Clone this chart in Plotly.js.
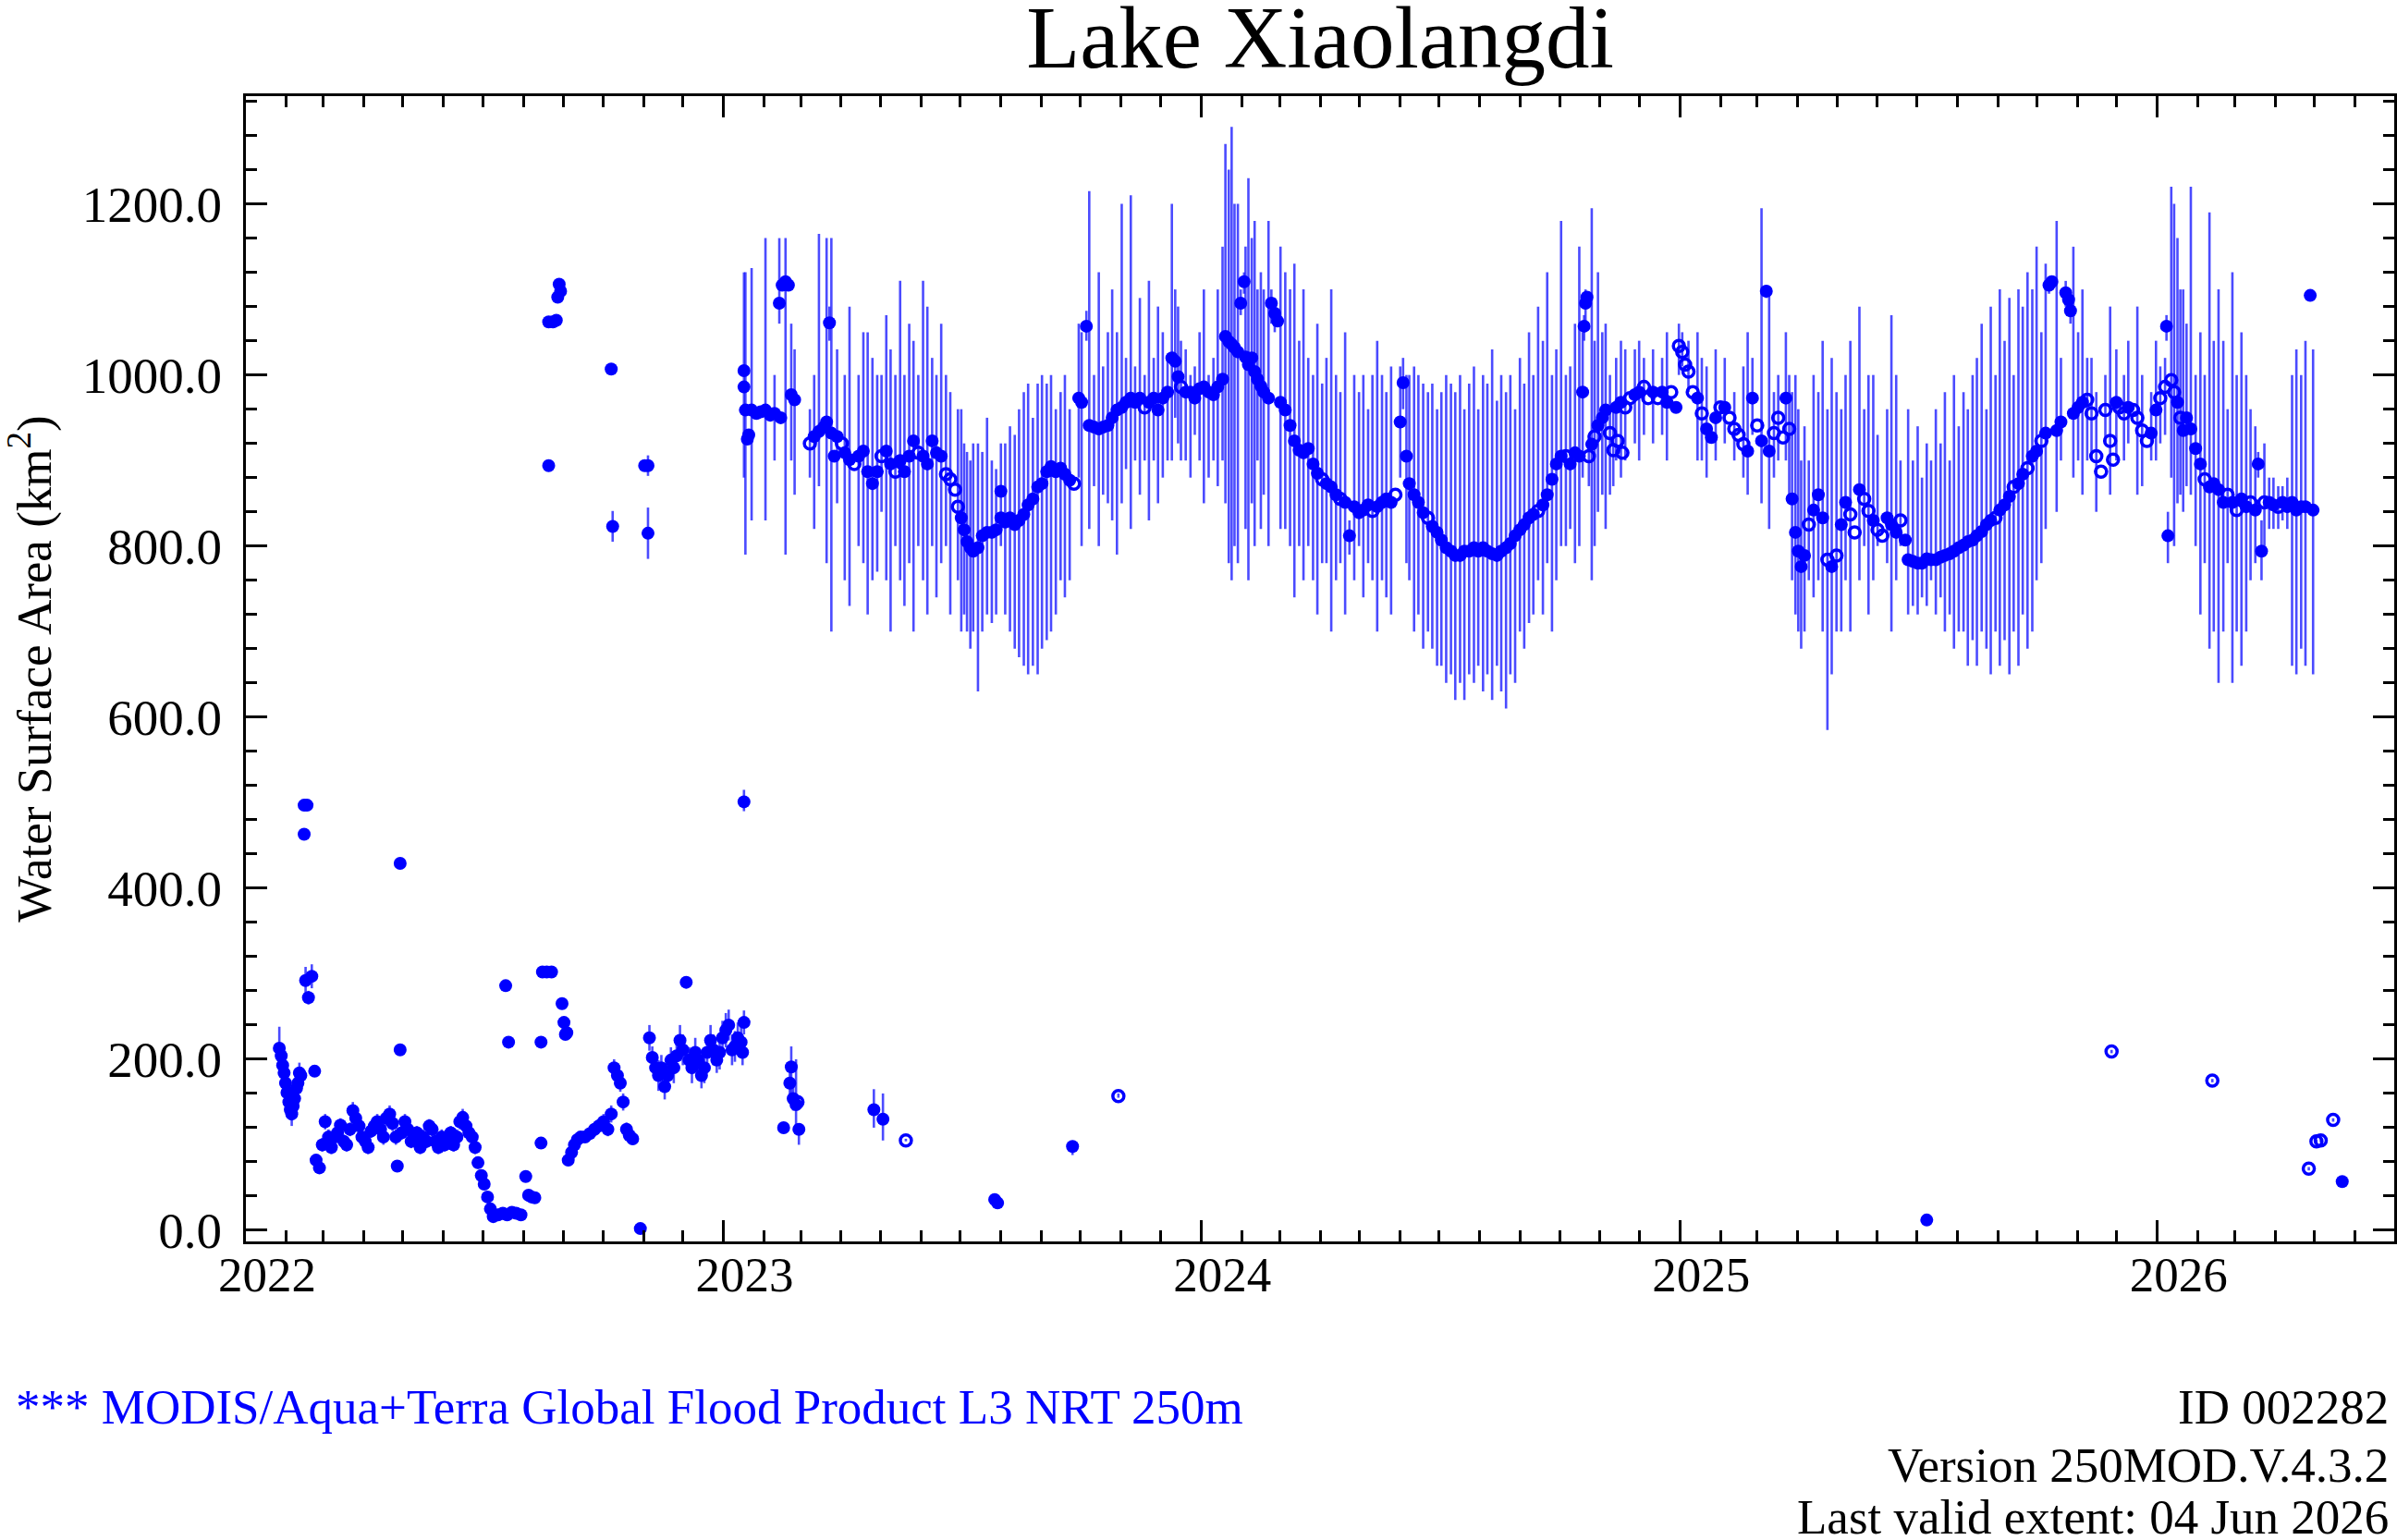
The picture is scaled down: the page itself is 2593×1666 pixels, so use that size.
<!DOCTYPE html>
<html><head><meta charset="utf-8">
<script src="https://cdn.plot.ly/plotly-3.0.1.min.js"></script>
<style>html,body{margin:0;padding:0;background:#fff;}#chart{width:2593px;height:1666px;}</style>
</head><body><div id="chart"></div>
<script>
// ---------- DATA (decimal years, area km^2, error bounds) ----------
// 2022 low-storage regime (continues to early Jan 2023); symmetric errors
const yr22 = [2022.070,2022.074,2022.077,2022.080,2022.083,2022.086,2022.090,2022.093,2022.096,2022.099,
2022.102,2022.106,2022.109,2022.112,2022.115,2022.122,2022.122,2022.125,2022.128,2022.131,
2022.138,2022.144,2022.147,2022.154,2022.160,2022.166,2022.173,2022.179,2022.186,2022.192,
2022.198,2022.205,2022.211,2022.218,2022.224,2022.230,2022.237,2022.243,2022.250,2022.256,
2022.262,2022.269,2022.275,2022.282,2022.288,2022.294,2022.301,2022.307,2022.314,2022.317,
2022.323,2022.323,2022.326,2022.333,2022.339,2022.346,2022.352,2022.358,2022.365,2022.371,
2022.378,2022.384,2022.390,2022.397,2022.403,2022.410,2022.416,2022.422,2022.429,2022.435,
2022.442,2022.448,2022.454,2022.461,2022.467,2022.474,2022.480,2022.486,2022.493,2022.499,
2022.506,2022.512,2022.518,2022.528,2022.538,2022.544,2022.547,2022.550,2022.557,2022.566,
2022.576,2022.586,2022.592,2022.598,2022.605,2022.618,2022.618,2022.621,2022.630,2022.634,
2022.634,2022.640,2022.643,2022.650,2022.653,2022.656,2022.659,2022.662,2022.666,2022.669,
2022.672,2022.675,2022.682,2022.688,2022.694,2022.701,2022.710,2022.720,2022.730,2022.739,
2022.749,2022.758,2022.765,2022.765,2022.768,2022.771,2022.778,2022.784,2022.790,2022.797,
2022.803,2022.810,2022.826,2022.835,2022.842,2022.842,2022.845,2022.851,2022.858,2022.864,
2022.870,2022.877,2022.883,2022.890,2022.896,2022.902,2022.909,2022.915,2022.922,2022.928,
2022.934,2022.941,2022.947,2022.954,2022.960,2022.966,2022.973,2022.979,2022.986,2022.992,
2022.998,2023.005,2023.011,2023.018,2023.024,2023.030,2023.037,2023.040,2023.043];
const area22 = [213,204,193,184,172,161,150,141,136,145,
154,166,172,184,181,497,463,292,497,272,
297,186,82,73,100,127,109,97,109,114,
123,104,100,118,140,131,122,109,104,97,
116,122,127,118,109,131,136,125,109,75,
429,211,114,127,118,104,109,114,97,109,
104,122,118,104,97,109,100,104,114,100,
109,127,132,122,114,109,97,79,64,54,
39,25,16,18,20,286,18,220,21,20,
18,63,41,39,38,102,220,302,302,894,
1062,302,1062,1064,1091,1106,1098,265,243,229,
231,82,91,100,106,109,109,113,118,122,
127,118,136,1007,823,190,181,172,150,118,
111,107,2,894,894,815,225,202,190,181,
190,168,181,199,190,204,222,211,290,199,
190,208,199,181,190,208,222,211,199,208,
225,234,240,211,215,225,220,208,243];
const err22 = [25,15,14,14,14,12,12,12,14,14,
14,12,12,12,10,6,6,16,6,8,
14,6,7,6,8,9,9,8,9,8,
8,8,8,8,10,9,8,9,8,8,
8,8,9,8,9,9,10,9,9,5,
4,4,8,9,8,8,9,8,8,9,
8,8,8,8,8,9,8,8,8,8,
9,9,10,8,8,9,8,7,6,6,
5,5,4,4,4,4,4,4,4,4,
4,5,4,4,4,4,4,4,4,4,
4,4,4,4,4,4,4,5,5,5,
5,4,5,5,6,6,6,7,8,8,
9,8,10,4,18,10,10,10,10,8,
7,7,2,6,12,30,15,13,15,18,
15,15,18,15,18,15,18,18,7,15,
18,17,15,15,18,17,18,18,15,20,
20,20,18,18,18,18,18,15,14];

// 2023
const yr23 = [2023.043,2023.043,2023.046,2023.050,2023.053,2023.043,2023.059,2023.069,2023.078,2023.088,
2023.098,2023.107,2023.117,2023.120,2023.123,2023.130,2023.136,2023.142,2023.149,2023.126,
2023.139,2023.142,2023.146,2023.152,2023.155,2023.158,2023.181,2023.190,2023.200,2023.210,
2023.216,2023.222,2023.226,2023.232,2023.238,2023.248,2023.254,2023.264,2023.274,2023.283,
2023.293,2023.302,2023.312,2023.315,2023.322,2023.331,2023.334,2023.341,2023.350,2023.360,
2023.370,2023.379,2023.382,2023.389,2023.398,2023.408,2023.418,2023.427,2023.437,2023.446,
2023.456,2023.466,2023.475,2023.485,2023.491,2023.498,2023.504,2023.510,2023.517,2023.523,
2023.533,2023.542,2023.552,2023.562,2023.568,2023.571,2023.574,2023.581,2023.581,2023.590,
2023.600,2023.610,2023.619,2023.629,2023.638,2023.648,2023.658,2023.667,2023.677,2023.686,
2023.696,2023.706,2023.715,2023.725,2023.731,2023.734,2023.744,2023.750,2023.760,2023.766,
2023.776,2023.786,2023.795,2023.805,2023.814,2023.824,2023.827,2023.834,2023.843,2023.853,
2023.862,2023.872,2023.882,2023.891,2023.901,2023.910,2023.920,2023.930,2023.939,2023.946,
2023.952,2023.958,2023.968,2023.978,2023.987];
const area23 = [1005,986,959,925,930,501,959,955,957,959,
953,955,1084,950,1105,1109,1105,977,971,120,
172,191,154,147,150,118,920,928,934,939,
945,1061,932,905,928,920,909,901,896,905,
911,887,873,141,887,905,130,911,896,887,
900,887,105,905,923,909,905,896,923,909,
905,884,878,866,846,833,819,805,798,794,
798,812,816,816,36,819,32,864,833,828,
833,825,830,837,848,855,869,873,887,893,
887,891,884,877,98,873,973,968,1057,941,
939,937,939,941,950,959,157,962,968,973,
968,973,962,968,973,959,973,980,1020,1016,
998,986,980,980,973];
const lo23 = [880,986,790,925,930,490,830,955,957,830,
953,900,1060,950,1105,790,1105,900,860,118,
155,160,140,115,150,100,880,820,870,939,
780,1040,700,905,850,920,760,730,896,800,
780,720,760,120,770,840,105,760,700,800,
760,730,104,780,700,800,760,720,800,740,
780,800,720,866,760,700,720,700,680,700,
630,700,720,710,34,720,30,800,833,720,
700,680,670,660,650,660,650,680,690,700,
720,760,740,760,88,873,880,800,1040,820,
870,800,860,850,830,790,155,850,890,820,
900,860,900,830,900,850,880,900,900,950,
920,900,900,880,930];
const hi23 = [1120,986,1120,925,930,515,1125,955,957,1160,
953,1000,1160,950,1105,1160,1105,1060,1030,122,
185,215,170,200,150,125,960,1000,1165,939,
1160,1080,1160,905,1030,920,1000,1080,896,1000,
1050,1050,1020,165,1000,1000,160,1070,1030,1000,
1110,1000,107,1060,1040,1000,1110,1080,1020,1000,
1060,1000,980,866,960,960,920,910,900,920,
920,910,950,900,38,890,34,920,833,920,
940,930,960,980,990,950,990,1000,990,1000,
960,980,1000,960,104,873,1060,1050,1075,1215,
1000,1120,1010,1050,1100,1050,160,1200,1020,1210,
1010,1090,1000,1110,1020,1080,1050,1020,1200,1100,
1080,1040,1030,1000,1010];
const ring23 = [0,0,0,0,0,0,0,0,0,0,
0,0,0,0,0,0,0,0,0,0,
0,0,0,0,1,0,1,0,0,0,
0,0,0,0,0,1,0,0,1,0,
0,0,0,0,0,1,0,0,0,1,
0,0,1,0,0,1,0,0,0,0,
0,1,1,1,1,0,0,0,0,0,
0,0,0,0,0,0,0,0,0,0,
0,0,0,0,0,0,0,0,0,0,
0,0,0,0,0,1,0,0,0,0,
0,0,0,0,0,0,1,0,0,0,
0,0,1,0,0,0,0,0,0,0,
0,1,0,0,0];

// 2024
const yr24 = [2023.997,2024.006,2024.016,2024.026,2024.035,2024.045,2024.051,2024.058,2024.064,2024.070,
2024.077,2024.083,2024.090,2024.093,2024.099,2024.106,2024.112,2024.118,2024.125,2024.131,
2024.141,2024.147,2024.154,2024.160,2024.166,2024.176,2024.186,2024.195,2024.205,2024.214,
2024.224,2024.234,2024.243,2024.253,2024.262,2024.272,2024.282,2024.291,2024.301,2024.310,
2024.320,2024.330,2024.339,2024.349,2024.358,2024.368,2024.378,2024.387,2024.397,2024.406,
2024.416,2024.422,2024.429,2024.435,2024.445,2024.454,2024.464,2024.474,2024.483,2024.493,
2024.502,2024.512,2024.522,2024.531,2024.541,2024.550,2024.560,2024.570,2024.579,2024.589,
2024.598,2024.608,2024.618,2024.627,2024.637,2024.646,2024.656,2024.666,2024.675,2024.685,
2024.694,2024.704,2024.714,2024.723,2024.733,2024.742,2024.752,2024.762,2024.771,2024.781,
2024.790,2024.797,2024.800,2024.803,2024.806,2024.810,2024.816,2024.822,2024.829,2024.838,
2024.845,2024.854,2024.861,2024.867,2024.870,2024.877,2024.880,2024.886,2024.896,2024.906,
2024.915,2024.925,2024.934,2024.944,2024.954,2024.963,2024.973,2024.982,2024.992];
const area24 = [984,986,980,977,986,995,1045,1039,1036,1032,
1027,1084,1109,1021,1012,1020,1004,995,987,980,
973,1084,1072,1063,968,959,941,923,912,909,
914,896,885,878,873,869,860,855,851,812,
846,839,842,848,841,846,851,855,851,860,
945,991,905,873,860,851,839,833,823,816,
807,798,794,789,789,794,794,798,794,798,
794,791,789,794,798,803,812,819,825,833,
837,841,848,860,878,896,905,905,896,909,
905,980,1057,1084,1091,905,919,928,941,950,
959,932,912,962,923,968,909,962,973,977,
980,986,973,980,973,980,968,980,962];
const lo24 = [900,850,880,900,870,900,850,780,760,800,
780,1070,1095,820,760,850,800,900,820,860,
800,1060,1050,1063,820,820,800,740,800,760,
800,760,720,780,780,700,760,780,720,790,
760,800,740,780,760,700,760,740,720,860,
880,960,780,760,700,720,680,700,680,660,
660,640,650,620,640,620,650,640,660,630,
650,620,660,630,610,650,640,700,680,710,
720,760,720,780,700,760,800,800,820,780,
800,880,1040,1060,1091,870,760,800,840,860,
820,860,870,900,923,880,909,900,973,920,
900,930,973,920,973,930,900,980,962];
const hi24 = [1050,1100,1000,1020,1100,1150,1270,1240,1290,1200,
1200,1100,1120,1150,1230,1160,1180,1100,1120,1100,
1180,1100,1090,1063,1150,1120,1100,1130,1040,1100,
1020,1000,1060,990,1020,1100,1000,980,1050,830,
1000,980,1000,960,1000,1040,1000,980,1010,860,
1010,1020,1000,1000,1010,1000,990,980,990,960,
980,1000,990,980,1000,960,990,1010,960,1000,
990,1030,970,1000,980,1000,960,1020,990,1050,
1000,1080,1040,1120,1000,1030,1180,1000,1010,1060,
1150,1050,1070,1100,1091,930,1195,1040,1120,1050,
1060,1000,960,1020,923,1040,909,1030,973,1030,
1040,1020,973,1030,973,1020,1050,980,962];
const ring24 = [0,0,0,0,0,0,0,0,0,0,
0,0,0,0,0,0,0,0,0,0,
0,0,0,0,0,0,0,0,0,0,
0,0,0,1,0,0,0,1,0,0,
0,0,0,0,1,0,0,0,0,1,
0,0,0,0,0,0,0,1,0,0,
0,0,0,0,0,0,0,0,0,0,
0,0,0,0,0,0,0,0,0,0,
0,1,0,0,0,0,0,1,0,0,
0,0,0,0,0,1,0,1,0,0,
0,1,1,0,1,0,1,1,1,0,
0,1,1,0,1,0,0,1,0];

// 2025
const yr25 = [2024.998,2025.005,2025.011,2025.018,2025.027,2025.037,2025.046,2025.056,2025.066,2025.075,
2025.085,2025.094,2025.104,2025.114,2025.123,2025.133,2025.142,2025.152,2025.162,2025.171,
2025.181,2025.187,2025.197,2025.206,2025.216,2025.222,2025.229,2025.235,2025.242,2025.248,
2025.254,2025.261,2025.270,2025.280,2025.290,2025.299,2025.309,2025.318,2025.328,2025.338,
2025.347,2025.357,2025.366,2025.376,2025.386,2025.395,2025.405,2025.414,2025.424,2025.434,
2025.443,2025.453,2025.462,2025.472,2025.478,2025.488,2025.498,2025.507,2025.517,2025.517,
2025.526,2025.536,2025.546,2025.555,2025.565,2025.574,2025.584,2025.594,2025.603,2025.613,
2025.622,2025.632,2025.642,2025.651,2025.661,2025.670,2025.680,2025.690,2025.699,2025.709,
2025.718,2025.728,2025.738,2025.747,2025.757,2025.766,2025.773,2025.779,2025.789,2025.798,
2025.808,2025.814,2025.818,2025.824,2025.834,2025.843,2025.853,2025.862,2025.872,2025.882,
2025.891,2025.901,2025.904,2025.907,2025.914,2025.920,2025.930,2025.939,2025.949,2025.958,
2025.968,2025.978,2025.987,2025.997];
const area25 = [1034,1027,1012,1004,980,973,955,937,927,950,
962,962,950,937,930,919,911,973,941,923,
1098,911,932,950,927,973,937,855,816,794,
776,789,825,842,860,833,784,776,789,825,
851,837,816,866,855,841,830,819,812,833,
825,816,830,807,784,782,780,780,785,12,
784,784,787,789,791,794,798,801,805,807,
812,817,825,830,833,842,848,858,869,873,
884,891,905,911,923,932,1105,1109,935,945,
1096,1088,1075,955,962,968,971,955,905,887,
959,923,209,901,968,962,955,962,959,950,
935,923,932,959];
const lo25 = [1000,1010,1012,980,980,900,900,880,927,900,
962,920,950,900,930,880,860,930,941,850,
1090,820,880,900,927,900,850,760,720,700,
680,700,760,740,760,700,585,650,700,700,
760,700,816,760,800,720,760,800,812,780,
700,760,800,807,720,730,720,740,730,10,
760,720,740,700,720,680,700,700,660,690,
660,700,680,650,700,660,690,650,700,660,
720,680,700,760,780,820,1095,1109,840,900,
1080,1088,1060,880,900,860,900,900,840,887,
920,860,207,901,900,962,900,920,959,860,
870,923,900,900];
const hi25 = [1060,1050,1012,1040,980,1050,1020,1010,927,1030,
962,1020,950,980,930,1010,1050,1020,941,1195,
1105,1100,980,1000,927,1050,1000,980,1000,960,
900,940,900,1000,980,1040,960,1020,980,960,
1000,1040,816,1080,960,1000,1000,930,812,960,
1070,1000,900,807,960,900,940,880,920,14,
900,960,920,980,900,1000,940,980,960,1000,
1020,1060,960,1080,1000,1100,1040,1090,1000,1100,
1080,1120,1100,1150,1050,1130,1115,1109,1180,1020,
1110,1088,1090,1150,1050,1100,1020,1020,980,887,
1000,1080,211,901,1030,962,1000,1040,959,1080,
1000,923,980,1040];
const ring25 = [1,1,1,1,1,0,1,0,0,0,
1,0,1,1,1,1,0,0,1,0,
0,0,1,1,1,0,1,0,0,0,
0,0,1,0,0,0,1,0,1,0,
0,1,1,0,1,1,0,1,1,0,
0,0,1,0,0,0,0,0,0,0,
0,0,0,0,0,0,0,0,0,0,
0,0,0,0,1,0,0,0,1,0,
0,1,0,0,1,0,0,0,0,0,
0,0,0,0,0,0,1,1,1,1,
1,1,1,1,0,1,1,0,1,1,
1,1,0,0];

// 2026
const yr26 = [2026.006,2026.016,2026.019,2026.022,2026.029,2026.035,2026.042,2026.048,2026.054,2026.061,
2026.070,2026.080,2026.090,2026.099,2026.109,2026.115,2026.118,2026.128,2026.138,2026.147,
2026.157,2026.166,2026.176,2026.186,2026.195,2026.205,2026.211,2026.218,2026.224,2026.234,
2026.243,2026.253,2026.262,2026.272,2026.282,2026.291,2026.301,2026.310,2026.317,2026.320,
2026.326,2026.333,2026.342,2026.368,2026.387];
const area26 = [973,986,1057,812,994,980,968,950,935,950,
937,914,896,878,869,175,873,866,851,860,
851,842,855,846,851,842,896,794,851,851,
848,846,851,846,851,842,846,846,72,1093,
842,104,105,129,57];
const lo26 = [920,930,1040,780,880,800,850,860,840,870,
860,800,720,780,680,173,700,640,700,780,
640,700,660,700,760,780,880,760,800,820,
820,820,830,820,660,650,680,660,70,1090,
650,102,103,127,55];
const hi26 = [1010,1020,1070,840,1220,1200,1160,1100,1100,1060,
1220,1000,1050,1000,1190,177,1040,1100,1040,960,
1120,1000,1050,1000,960,940,910,830,920,880,
880,870,870,880,1000,1030,1000,1040,74,1096,
1030,106,107,131,59];
const ring26 = [1,1,0,0,1,1,0,1,0,0,
0,0,0,1,0,1,0,0,0,1,
0,1,0,0,1,0,0,0,1,0,
0,1,0,0,0,0,0,0,1,0,
0,1,1,1,0];

const titleText = 'Lake Xiaolangdi';
const yTitle = 'Water Surface Area (km<sup>2</sup>)';
const sourceText = '*** MODIS/Aqua+Terra Global Flood Product L3 NRT 250m';
const infoLines = ['ID 002282', 'Version 250MOD.V.4.3.2', 'Last valid extent: 04 Jun 2026'];

// ---------- BUILD ----------
function toDate(y){
  const yr = Math.floor(y);
  const a = Date.UTC(yr,0,1), b = Date.UTC(yr+1,0,1);
  return new Date(a + (y-yr)*(b-a)).toISOString().slice(0,19).replace('T',' ');
}
const E = {x:[],y:[],p:[],m:[]}, F = {x:[],y:[]}, O = {x:[],y:[]};
function add(d,v,lo,hi,ring){
  E.x.push(d); E.y.push(v); E.p.push(Math.max(0,hi-v)); E.m.push(Math.max(0,v-lo));
  if(ring){O.x.push(d);O.y.push(v);} else {F.x.push(d);F.y.push(v);}
}
yr22.forEach((t,i)=>add(toDate(t),area22[i],area22[i]-err22[i],area22[i]+err22[i],0));
[[yr23,area23,lo23,hi23,ring23],[yr24,area24,lo24,hi24,ring24],[yr25,area25,lo25,hi25,ring25],[yr26,area26,lo26,hi26,ring26]]
 .forEach(s=>s[0].forEach((t,i)=>add(toDate(t),s[1][i],s[2][i],s[3][i],s[4][i])));

const BLUE = '#0000ff';
const traces = [
  {type:'scatter', mode:'markers', x:E.x, y:E.y, hoverinfo:'skip',
   marker:{size:2, color:'rgba(0,0,0,0)'},
   error_y:{type:'data', symmetric:false, array:E.p, arrayminus:E.m, color:'rgba(30,30,255,0.8)', thickness:2.6, width:0}},
  {type:'scatter', mode:'markers', x:F.x, y:F.y, marker:{symbol:'circle', size:14, color:BLUE}},
  {type:'scatter', mode:'markers', x:O.x, y:O.y, marker:{symbol:'circle-open', size:12, color:BLUE, line:{width:3.5, color:BLUE}}}
];

const L = 266, R = 2590, T = 104, B = 1343, W = 2593, H = 1666;
const px = x => (x - L)/(R - L), py = y => (B - y)/(B - T);
const FONT = 'Liberation Serif, Times New Roman, serif';
const axisCommon = {showline:true, linewidth:3, linecolor:'#000', mirror:'allticks', ticks:'inside', ticklen:23, tickwidth:3, tickcolor:'#000',
  showgrid:false, zeroline:false, tickfont:{family:FONT, size:53, color:'#000'}};
const layout = {
  width:W, height:H, margin:{l:L, r:W-R, t:T, b:H-B, pad:0},
  paper_bgcolor:'#fff', plot_bgcolor:'#fff', showlegend:false,
  font:{family:FONT, size:53, color:'#000'},
  title:{text:titleText, font:{family:FONT, size:95, color:'#000'}, xref:'paper', x:0.5, xanchor:'center', yref:'container', y:1-40/H, yanchor:'middle'},
  xaxis:Object.assign({}, axisCommon, {type:'date', range:['2022-01-01','2026-07-01'], tick0:'2022-01-01', dtick:'M12', tickformat:'%Y',
    ticklabelshift:23, ticklabelstandoff:-13,
    minor:{tick0:'2022-01-01', dtick:'M1', ticks:'inside', ticklen:12, tickwidth:3, tickcolor:'#000', showgrid:false}}),
  yaxis:Object.assign({}, axisCommon, {range:[-13,1326], tick0:0, dtick:200, tickformat:'.1f', ticklabelstandoff:12,
    tickfont:{family:FONT, size:55, color:'#000'},
    minor:{tick0:0, dtick:40, ticks:'inside', ticklen:12, tickwidth:3, tickcolor:'#000', showgrid:false},
    title:{text:yTitle, font:{family:FONT, size:53, color:'#000'}, standoff:30}}),
  annotations:[
    {text:sourceText, xref:'paper', yref:'paper', x:px(15), y:py(1522), xanchor:'left', yanchor:'middle', showarrow:false, font:{family:FONT, size:53, color:BLUE}},
    {text:infoLines[0], xref:'paper', yref:'paper', x:px(2586), y:py(1522), xanchor:'right', yanchor:'middle', showarrow:false, font:{family:FONT, size:53, color:'#000'}},
    {text:infoLines[1], xref:'paper', yref:'paper', x:px(2586), y:py(1585), xanchor:'right', yanchor:'middle', showarrow:false, font:{family:FONT, size:53, color:'#000'}},
    {text:infoLines[2], xref:'paper', yref:'paper', x:px(2586), y:py(1641), xanchor:'right', yanchor:'middle', showarrow:false, font:{family:FONT, size:53, color:'#000'}}
  ]
};
Plotly.newPlot('chart', traces, layout, {displayModeBar:false, staticPlot:true});
</script>
</body></html>
